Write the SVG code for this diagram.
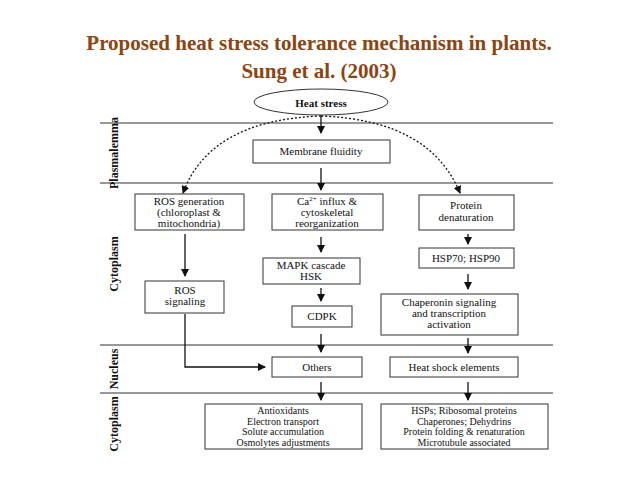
<svg xmlns="http://www.w3.org/2000/svg" width="638" height="478" viewBox="0 0 638 478">
<style>
.t{font-family:"Liberation Serif",serif;font-size:11px;text-anchor:middle;fill:#111}
.u{font-family:"Liberation Serif",serif;font-size:10px;text-anchor:middle;fill:#111}
.b{fill:#fff;stroke:#333;stroke-width:1}
.l{stroke:#333;stroke-width:1;fill:none}
.a{stroke:#111;stroke-width:1.3;fill:none;marker-end:url(#ar)}
.s{font-family:"Liberation Serif",serif;font-size:12px;font-weight:bold;text-anchor:middle;fill:#111}
</style>
<defs><marker id="ar" markerWidth="8" markerHeight="8" refX="7" refY="4" orient="auto" markerUnits="userSpaceOnUse"><path d="M0,0 L8,4 L0,8 z" fill="#111"/></marker></defs>
<rect width="638" height="478" fill="#fff"/>
<text x="319" y="50" font-family="Liberation Serif,serif" font-size="21" font-weight="bold" fill="#8B4513" text-anchor="middle">Proposed heat stress tolerance mechanism in plants.</text>
<text x="319" y="78" font-family="Liberation Serif,serif" font-size="21" font-weight="bold" fill="#8B4513" text-anchor="middle">Sung et al. (2003)</text>
<g id="lanes">
<line class="l" x1="100" y1="123" x2="553" y2="123"/><line class="l" x1="100" y1="183" x2="553" y2="183"/>
<line class="l" x1="100" y1="345" x2="553" y2="345"/><line class="l" x1="100" y1="393" x2="553" y2="393"/>
<text class="s" transform="translate(118,153) rotate(-90)">Plasmalemma</text>
<text class="s" transform="translate(118,264) rotate(-90)">Cytoplasm</text>
<text class="s" transform="translate(118,369) rotate(-90)">Nucleus</text>
<text class="s" transform="translate(118,424) rotate(-90)">Cytoplasm</text>
</g>
<g id="heat"><ellipse cx="321" cy="102" rx="67" ry="13" fill="#fff" stroke="#333"/><text class="t" x="321" y="107" font-weight="bold" font-size="14">Heat stress</text></g>
<g id="mem"><rect class="b" x="253" y="140" width="137" height="23"/><text class="t" x="321" y="155">Membrane fluidity</text></g>
<g id="rosg"><rect class="b" x="135" y="194" width="109" height="36"/><text class="t" x="189" y="205">ROS generation</text><text class="t" x="189" y="216">(chloroplast &amp;</text><text class="t" x="189" y="227">mitochondria)</text></g>
<g id="ca"><rect class="b" x="272" y="194" width="111" height="36"/><text class="t" x="327" y="205">Ca<tspan font-size="7" dy="-4">2+</tspan><tspan dy="4"> influx &amp;</tspan></text><text class="t" x="327" y="216">cytoskeletal</text><text class="t" x="327" y="227">reorganization</text></g>
<g id="prot"><rect class="b" x="419" y="195" width="95" height="35"/><text class="t" x="466" y="209">Protein</text><text class="t" x="466" y="221">denaturation</text></g>
<g id="hsp"><rect class="b" x="419" y="248" width="95" height="20"/><text class="t" x="466" y="262">HSP70; HSP90</text></g>
<g id="mapk"><rect class="b" x="263" y="258" width="97" height="26"/><text class="t" x="311" y="269">MAPK cascade</text><text class="t" x="311" y="280">HSK</text></g>
<g id="rosS"><rect class="b" x="145" y="281" width="79" height="32"/><text class="t" x="185" y="294">ROS</text><text class="t" x="185" y="305">signaling</text></g>
<g id="cdpk"><rect class="b" x="292" y="306" width="60" height="21"/><text class="t" x="322" y="320">CDPK</text></g>
<g id="chap"><rect class="b" x="381" y="294" width="137" height="41"/><text class="t" x="449" y="306">Chaperonin signaling</text><text class="t" x="449" y="317">and transcription</text><text class="t" x="449" y="328">activation</text></g>
<g id="oth"><rect class="b" x="272" y="357" width="90" height="20"/><text class="t" x="317" y="371">Others</text></g>
<g id="hse"><rect class="b" x="390" y="357" width="128" height="20"/><text class="t" x="454" y="371">Heat shock elements</text></g>
<g id="out1"><rect class="b" x="205" y="404" width="157" height="45"/><text class="u" x="283" y="414">Antioxidants</text><text class="u" x="283" y="424.5">Electron transport</text><text class="u" x="283" y="435">Solute accumulation</text><text class="u" x="283" y="445.5">Osmolytes adjustments</text></g>
<g id="out2"><rect class="b" x="381" y="404" width="167" height="45"/><text class="u" x="464" y="414">HSPs; Ribosomal proteins</text><text class="u" x="464" y="424.5">Chaperones; Dehydrins</text><text class="u" x="464" y="435">Protein folding &amp; renaturation</text><text class="u" x="464" y="445.5">Microtubule associated</text></g>
<g id="connectors">
<path class="a" d="M321,116 V133"/>
<path class="a" d="M321,168 V190"/>
<path class="a" d="M321,237 V252"/>
<path class="a" d="M321,288 V301"/>
<path class="a" d="M321,334 V352"/>
<path class="a" d="M321,382 V400"/>
<path class="a" d="M468,234 V244"/>
<path class="a" d="M468,274 V289"/>
<path class="a" d="M468,338 V353"/>
<path class="a" d="M468,382 V400"/>
<path class="a" d="M185,234 V276"/>
<path class="a" d="M185,314 V367 H265"/>
<path class="a" d="M321,116 Q210,120 183,193" stroke-dasharray="2,2"/>
<path class="a" d="M321,116 Q430,120 460,193" stroke-dasharray="2,2"/>
</g>
</svg>
